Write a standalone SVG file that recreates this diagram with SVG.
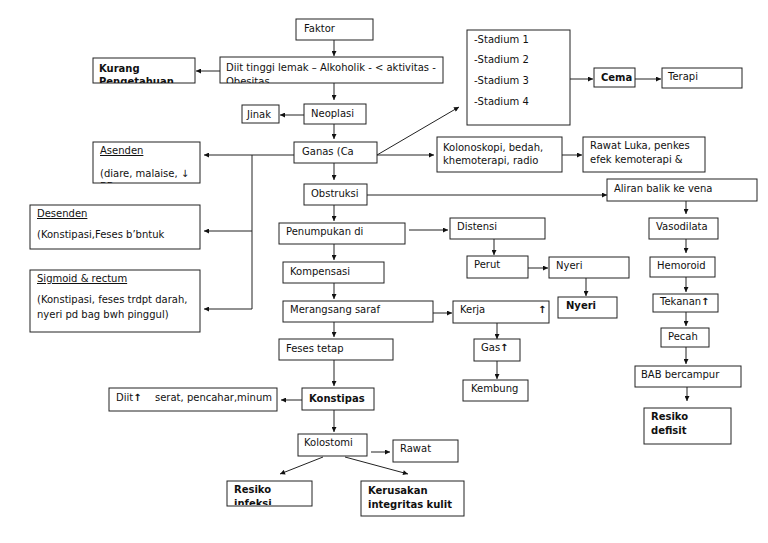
<svg xmlns="http://www.w3.org/2000/svg" width="768" height="543" viewBox="0 0 768 543">
<style>
rect.b{fill:#fff;stroke:#222;stroke-width:1}
text{font-family:"DejaVu Sans","Liberation Sans",sans-serif;font-size:10px;fill:#111}
.bd{font-weight:bold}
.u{text-decoration:underline}
.c path{fill:none;stroke:#222;stroke-width:1}
</style>
<defs>
<marker id="a" viewBox="0 0 6 6" refX="6" refY="3" markerWidth="6" markerHeight="5" markerUnits="userSpaceOnUse" orient="auto"><path d="M0,0 L6,3 L0,6 z" fill="#111"/></marker>
</defs>
<rect width="768" height="543" fill="#fff"/>
<g class="c">
<path d="M334,40 V56" marker-end="url(#a)"/>
<path d="M220,71 H196" marker-end="url(#a)"/>
<path d="M334,83 V100" marker-end="url(#a)"/>
<path d="M304,115 H280" marker-end="url(#a)"/>
<path d="M334,124 V139" marker-end="url(#a)"/>
<path d="M377,155 L459,107" marker-end="url(#a)"/>
<path d="M377,155 H434" marker-end="url(#a)"/>
<path d="M294,155 H204" marker-end="url(#a)"/>
<path d="M252,155 V309"/>
<path d="M252,231 H204" marker-end="url(#a)"/>
<path d="M252,309 H204" marker-end="url(#a)"/>
<path d="M570,79 H593" marker-end="url(#a)"/>
<path d="M635,79 H661" marker-end="url(#a)"/>
<path d="M562,155 H582" marker-end="url(#a)"/>
<path d="M334,163 V180" marker-end="url(#a)"/>
<path d="M367,195 H607" marker-end="url(#a)"/>
<path d="M334,205 V221" marker-end="url(#a)"/>
<path d="M409,230 H448" marker-end="url(#a)"/>
<path d="M334,244 V260" marker-end="url(#a)"/>
<path d="M334,283 V299" marker-end="url(#a)"/>
<path d="M433,313 H452" marker-end="url(#a)"/>
<path d="M334,322 V337" marker-end="url(#a)"/>
<path d="M334,360 V386" marker-end="url(#a)"/>
<path d="M302,400 H281" marker-end="url(#a)"/>
<path d="M334,410 V432" marker-end="url(#a)"/>
<path d="M371,452 H390" marker-end="url(#a)"/>
<path d="M323,457 L280,474" marker-end="url(#a)"/>
<path d="M345,457 L408,474" marker-end="url(#a)"/>
<path d="M494,239 V255" marker-end="url(#a)"/>
<path d="M528,268 H548" marker-end="url(#a)"/>
<path d="M586,278 V296" marker-end="url(#a)"/>
<path d="M497,323 V339" marker-end="url(#a)"/>
<path d="M497,361 V379" marker-end="url(#a)"/>
<path d="M686,201 V214" marker-end="url(#a)"/>
<path d="M686,239 V253" marker-end="url(#a)"/>
<path d="M686,277 V292" marker-end="url(#a)"/>
<path d="M686,312 V326" marker-end="url(#a)"/>
<path d="M686,347 V364" marker-end="url(#a)"/>
<path d="M687,387 V401" marker-end="url(#a)"/>
</g>
<g id="faktor"><rect class="b" x="296" y="19" width="77" height="21"/><text x="304" y="32">Faktor</text></g>
<g id="diit-lemak"><rect class="b" x="220" y="57" width="223" height="26"/><svg x="220" y="57" width="223" height="26" viewBox="220 57 223 26"><text x="226" y="71">Diit tinggi lemak – Alkoholik - &lt; aktivitas -</text><text x="226" y="85">Obesitas</text></svg></g>
<g id="kurang"><rect class="b" x="93" y="58" width="102" height="25"/><svg x="93" y="58" width="102" height="25" viewBox="93 58 102 25"><text class="bd" x="99" y="72">Kurang</text><text class="bd" x="99" y="85">Pengetahuan</text></svg></g>
<g id="jinak"><rect class="b" x="242" y="105" width="37" height="18"/><text x="247" y="118">Jinak</text></g>
<g id="neoplasi"><rect class="b" x="304" y="104" width="62" height="20"/><text x="311" y="117">Neoplasi</text></g>
<g id="ganas"><rect class="b" x="294" y="142" width="83" height="21"/><text x="302" y="155">Ganas (Ca</text></g>
<g id="stadium"><rect class="b" x="467" y="30" width="103" height="95"/><text x="474" y="43">-Stadium 1</text><text x="474" y="63">-Stadium 2</text><text x="474" y="84">-Stadium 3</text><text x="474" y="105">-Stadium 4</text></g>
<g id="cema"><rect class="b" x="594" y="68" width="41" height="19"/><text class="bd" x="601" y="81">Cema</text></g>
<g id="terapi"><rect class="b" x="662" y="68" width="80" height="20"/><text x="668" y="80">Terapi</text></g>
<g id="kolonoskopi"><rect class="b" x="437" y="137" width="125" height="35"/><text x="443" y="151">Kolonoskopi, bedah,</text><text x="443" y="164">khemoterapi, radio</text></g>
<g id="rawat-luka"><rect class="b" x="583" y="137" width="122" height="35"/><text x="590" y="149">Rawat Luka, penkes</text><text x="590" y="163">efek kemoterapi &amp;</text></g>
<g id="asenden"><rect class="b" x="93" y="142" width="107" height="41"/><svg x="93" y="142" width="107" height="41" viewBox="93 142 107 41"><text class="u" x="100" y="154">Asenden</text><text x="100" y="177">(diare, malaise, ↓</text><text x="100" y="190">BB</text></svg></g>
<g id="desenden"><rect class="b" x="30" y="205" width="170" height="44"/><text class="u" x="37" y="217">Desenden</text><text x="37" y="238">(Konstipasi,Feses b’bntuk</text></g>
<g id="sigmoid"><rect class="b" x="30" y="270" width="170" height="62"/><text class="u" x="37" y="282">Sigmoid &amp; rectum</text><text x="37" y="303">(Konstipasi, feses trdpt darah,</text><text x="37" y="318">nyeri pd bag bwh pinggul)</text></g>
<g id="obstruksi"><rect class="b" x="304" y="184" width="63" height="21"/><text x="311" y="197">Obstruksi</text></g>
<g id="penumpukan"><rect class="b" x="279" y="223" width="126" height="21"/><text x="286" y="235">Penumpukan di</text></g>
<g id="kompensasi"><rect class="b" x="283" y="262" width="101" height="21"/><text x="290" y="275">Kompensasi</text></g>
<g id="merangsang"><rect class="b" x="283" y="301" width="150" height="21"/><text x="290" y="313">Merangsang saraf</text></g>
<g id="feses"><rect class="b" x="279" y="339" width="114" height="21"/><text x="286" y="352">Feses tetap</text></g>
<g id="konstipas"><rect class="b" x="302" y="388" width="72" height="22"/><text class="bd" x="309" y="402">Konstipas</text></g>
<g id="diit-serat"><rect class="b" x="109" y="388" width="168" height="23"/><text x="116" y="401">Diit<tspan class="bd">↑</tspan><tspan x="155">serat, pencahar,minum</tspan></text></g>
<g id="kolostomi"><rect class="b" x="298" y="434" width="69" height="22"/><text x="304" y="446">Kolostomi</text></g>
<g id="rawat"><rect class="b" x="393" y="440" width="65" height="22"/><text x="400" y="452">Rawat</text></g>
<g id="resiko-infeksi"><rect class="b" x="227" y="481" width="85" height="25"/><svg x="227" y="481" width="85" height="24" viewBox="227 481 85 24"><text class="bd" x="234" y="493">Resiko</text><text class="bd" x="234" y="507">infeksi</text></svg></g>
<g id="kerusakan"><rect class="b" x="361" y="481" width="103" height="35"/><text class="bd" x="368" y="494">Kerusakan</text><text class="bd" x="368" y="508">integritas kulit</text></g>
<g id="distensi"><rect class="b" x="450" y="218" width="95" height="21"/><text x="457" y="230">Distensi</text></g>
<g id="perut"><rect class="b" x="467" y="256" width="61" height="22"/><text x="474" y="268">Perut</text></g>
<g id="nyeri"><rect class="b" x="549" y="257" width="80" height="21"/><text x="556" y="269">Nyeri</text></g>
<g id="nyeri-b"><rect class="b" x="558" y="297" width="59" height="21"/><text class="bd" x="566" y="309">Nyeri</text></g>
<g id="kerja"><rect class="b" x="453" y="301" width="96" height="22"/><text x="460" y="313">Kerja</text><text class="bd" x="538" y="313">↑</text></g>
<g id="gas"><rect class="b" x="474" y="339" width="46" height="22"/><text x="481" y="351">Gas<tspan class="bd">↑</tspan></text></g>
<g id="kembung"><rect class="b" x="463" y="380" width="65" height="21"/><text x="471" y="392">Kembung</text></g>
<g id="aliran"><rect class="b" x="607" y="179" width="150" height="22"/><text x="614" y="192">Aliran balik ke vena</text></g>
<g id="vasodilata"><rect class="b" x="649" y="218" width="69" height="21"/><text x="656" y="230">Vasodilata</text></g>
<g id="hemoroid"><rect class="b" x="650" y="257" width="65" height="20"/><text x="657" y="269">Hemoroid</text></g>
<g id="tekanan"><rect class="b" x="653" y="294" width="65" height="18"/><text x="660" y="305">Tekanan<tspan class="bd">↑</tspan></text></g>
<g id="pecah"><rect class="b" x="661" y="328" width="48" height="19"/><text x="668" y="340">Pecah</text></g>
<g id="bab"><rect class="b" x="635" y="366" width="106" height="21"/><text x="641" y="378">BAB bercampur</text></g>
<g id="resiko-defisit"><rect class="b" x="644" y="408" width="87" height="36"/><text class="bd" x="651" y="420">Resiko</text><text class="bd" x="651" y="434">defisit</text></g>
</svg>
